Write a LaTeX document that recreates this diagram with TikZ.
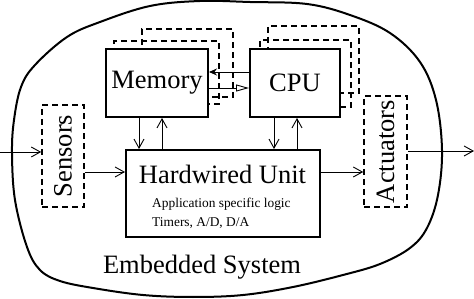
\documentclass[tikz,border=0pt]{standalone}
\usepackage{fontspec}
\setmainfont{Liberation Serif}
\usetikzlibrary{arrows.meta}
\begin{document}
\begin{tikzpicture}[x=1pt,y=-1pt,
  big/.style={font=\fontsize{26.5}{30}\selectfont},
  small/.style={font=\fontsize{13.4}{16}\selectfont},
  box/.style={draw, line width=2pt, fill=white, inner sep=0pt},
  dbox/.style={draw, line width=1.6pt, dash pattern=on 6pt off 4pt, inner sep=0pt},
  arr/.style={line width=0.9pt, -{Straight Barb[length=9pt,width=10pt]}},
  blob/.style={line width=2pt}]
\useasboundingbox (0,0) rectangle (474,299);
% enclosing outline
\draw[blob] plot[smooth cycle, tension=0.6] coordinates {
 (200,1) (250,2) (307,4) (350,15) (390,33) (420,62) (436,100) (442,150)
 (438,195) (427,228) (410,248) (380,264) (343,275) (293,287) (243,295)
 (193,297) (143,295) (93,288) (60,281) (40,270) (27,247) (15,200)
 (12,153) (14,120) (21,87) (35,65) (67,37) (100,22) (150,6)};
% stacked copies
\node[dbox, minimum width=91pt, minimum height=68pt] (mem2) at (187.5,63) {};
\node[dbox, minimum width=105pt, minimum height=63pt] (mem1) at (166.5,72.5) {};
\node[dbox, minimum width=91pt, minimum height=67pt] (cpu2) at (313.5,59.5) {};
\node[dbox, minimum width=91pt, minimum height=67pt] (cpu1) at (305.5,73.5) {};
% main boxes
\node[box, big, minimum width=102pt, minimum height=68pt] (mem) at (157,83) {Memory};
\node[box, big, minimum width=90pt, minimum height=68pt] (cpu) at (295,83) {CPU};
\node[box, minimum width=194pt, minimum height=87pt] (hw) at (223,193.5) {};
\node[big, anchor=base, inner sep=0pt] (hwt) at (222.5,184) {Hardwired Unit};
\node[small, anchor=base west, inner sep=0pt] (app) at (152,208) {Application specific logic};
\node[small, anchor=base west, inner sep=0pt] (tim) at (152,227) {Timers, A/D, D/A};
\node[dbox, minimum width=42pt, minimum height=102pt] (sen) at (63,156) {};
\node[big, rotate=90, inner sep=0pt] (sent) at (sen.center) {Sensors};
\node[dbox, minimum width=43pt, minimum height=111pt] (act) at (385.5,151.5) {};
\node[big, rotate=90, inner sep=0pt] (actt) at (act.center) {Actuators};
\node[big, anchor=base, inner sep=0pt] (es) at (202,273) {Embedded System};
% helper coordinates
\coordinate (in) at (0,152);
\coordinate (out) at (474,151);
\coordinate (ya) at (0,172);
\coordinate (xm1) at (139,0);
\coordinate (xm2) at (162,0);
\coordinate (xc1) at (274,0);
\coordinate (xc2) at (297,0);
\coordinate (yu) at (0,72);
\coordinate (yl) at (0,88);
% connectors
\draw[arr] (in) -- (sen.west |- in);
\draw[arr] (sen.east |- ya) -- (hw.west |- ya);
\draw[arr] (hw.east |- ya) -- (act.west |- ya);
\draw[arr] (act.east |- out) -- (out);
\draw[arr] (mem.south -| xm1) -- (hw.north -| xm1);
\draw[arr] (hw.north -| xm2) -- (mem.south -| xm2);
\draw[arr] (cpu.south -| xc1) -- (hw.north -| xc1);
\draw[arr] (hw.north -| xc2) -- (cpu.south -| xc2);
\draw[line width=0.9pt, -{Stealth[length=8pt,width=7pt]}] (cpu.west |- yu) -- (mem.east |- yu);
\draw[line width=0.9pt, -{Triangle[open,length=13pt,width=7pt]}] (mem.east |- yl) -- (cpu.west |- yl);
\end{tikzpicture}
\end{document}
